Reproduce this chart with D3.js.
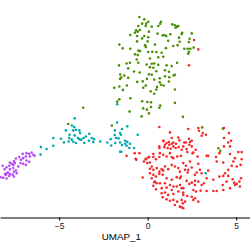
<!DOCTYPE html>
<html>
<head>
<meta charset="utf-8">
<script src="https://cdn.jsdelivr.net/npm/d3@7"></script>
<style>
  body { margin: 0; background: #fff; }
  svg { display: block; font-family: "Liberation Sans", Arial, sans-serif; }
</style>
</head>
<body>
<div id="umap-container"></div>
<script>
// cluster names and colours (in drawing order)
var clusterNames = ["0", "1", "2", "3"];
var clusterColors = ["#f22a2a", "#4a8f00", "#00a7ae", "#b44cf6"];

// x axis ticks
var xTicks = [-5, 0, 5];
var xLabel = "UMAP_1";

// cluster 0 (red) - UMAP_1, UMAP_2
var cluster0 = [
  [0.66,0.15],[1.26,-0.15],[0.88,-0.64],[1.07,-0.75],[1.22,-0.85],[1.36,-0.79],[1.45,-0.72],[1.6,-0.79],[1.79,-0.6],[2.07,-0.72],
  [0.66,-0.94],[0.94,-0.98],[1.13,-1.03],[1.3,-1.07],[1.45,-0.94],[1.58,-1.03],[1.75,-0.98],[1.92,-1.13],[-0.73,-1.32],[-0.68,-1.64],
  [-0.47,-1.32],[-0.64,-1.69],[0.09,-1.54],[-0.1,-1.66],[-0.21,-1.79],[-0.02,-1.88],[0.13,-1.85],[0.32,-1.54],[0.47,-1.66],[0.69,-1.32],
  [0.66,-1.54],[0.88,-1.41],[1.07,-1.51],[1.26,-1.32],[1.45,-1.6],[1.67,-1.51],[1.88,-1.47],[0.23,-2.07],[0.32,-2.26],[0.51,-2.16],
  [0.66,-2.36],[0.79,-2.22],[0.88,-2.3],[0.98,-2.07],[1.16,-2.22],[1.36,-1.98],[1.54,-2.07],[1.73,-2.16],[2.01,-1.88],[-0.28,-2.69],
  [0.13,-2.45],[0.32,-2.54],[0.23,-2.73],[0.47,-2.64],[0.66,-2.49],[0.85,-2.54],[1.07,-2.73],[1.36,-2.82],[1.64,-2.67],[1.88,-2.64],
  [0.41,-2.92],[0.51,-3.01],[0.32,-3.16],[0.47,-3.35],[0.69,-3.01],[0.98,-3.01],[1.26,-3.11],[1.45,-3.2],[1.82,-3.11],[0.79,-3.58],
  [0.98,-3.54],[1.16,-3.67],[1.45,-3.62],[1.73,-3.48],[2.01,-3.54],[0.85,-3.8],[1.07,-3.92],[1.26,-4.0],[1.45,-3.95],[1.67,-4.05],
  [1.92,-3.95],[1.98,-4.14],[-1.19,-1.47],
  [2.29,0.04],[2.86,0.1],[2.9,-0.06],[3.11,-0.19],[3.05,-0.34],[3.29,-0.28],[4.31,-0.47],[4.59,-0.19],[4.55,-0.72],[4.31,-0.94],
  [4.65,-0.94],[2.16,-0.72],[2.35,-0.85],[2.01,-0.94],[2.49,-0.94],[2.2,-1.09],[2.24,-1.26],[2.58,-1.28],[3.33,-1.47],[3.42,-1.47],
  [3.86,-1.54],[4.05,-1.32],[3.9,-1.79],[4.27,-1.85],[4.65,-1.37],[4.93,-1.6],[5.12,-1.26],[5.31,-1.26],[5.31,-1.66],[2.39,-1.79],
  [2.16,-2.03],[2.86,-1.92],[4.84,-1.79],[4.75,-2.03],[5.03,-2.07],[5.25,-1.98],[4.55,-2.26],[4.37,-2.45],[2.29,-2.26],[2.26,-2.41],
  [2.77,-2.41],[3.05,-2.45],[2.67,-2.54],[3.42,-2.3],[3.33,-2.73],[3.71,-2.82],[4.05,-2.64],[4.27,-2.6],[4.55,-2.6],[4.8,-2.79],
  [4.89,-2.98],[5.03,-3.05],[5.18,-2.92],[5.27,-2.73],[2.2,-2.88],[2.49,-2.98],[2.67,-3.11],[2.35,-3.05],[2.86,-2.92],[3.05,-3.11],
  [3.18,-3.01],[2.01,-3.29],[2.58,-3.39],[2.73,-3.48],[2.99,-3.43],[3.33,-3.45],[3.71,-3.45],[3.9,-3.45],[4.27,-3.39],[4.65,-3.29],
  [4.24,-3.11],[4.46,-2.92],[4.93,-3.11],[5.21,-3.2],[2.01,-3.67],[2.24,-3.73],[2.49,-3.77],[2.67,-3.86],[2.11,-4.05],[2.58,-3.95],
  [2.86,-4.05],[1.92,-4.37],
  [4.31,0.1],[4.71,-0.62],[0.9,-0.62],[1.2,-0.69],[2.33,-0.51],[2.49,-0.62],[2.39,-0.69],[0.66,-1.03],[2.71,-1.13],[-0.11,-1.64],
  [0.03,-1.56],[0.32,-1.37],[1.36,-1.54],[2.54,-1.32],[2.82,-1.51],[0.13,-2.2],[1.82,-2.36],[2.11,-2.26],[2.49,-2.13],[2.95,-2.26],
  [0.37,-2.95],[1.82,-2.73],[2.67,-2.88],[1.92,-3.29],[1.36,-3.39],[1.64,-3.2],[1.07,-3.26],[0.79,-3.29],[1.54,-4.24],[1.82,-4.33],
  [2.01,-4.42],[1.73,-0.44],[1.36,-0.47],[0.98,-0.85],
  [2.62,5.05],[2.86,4.52],[2.33,3.63]
];

// cluster 1 (green)
var cluster1 = [
  [-0.47,6.34],[-0.19,6.21],[0.03,6.08],[-0.31,5.97],[-0.08,5.97],[-0.53,5.84],[-0.11,5.84],[0.23,5.8],[0.75,6.08],[0.71,5.97],
  [0.6,5.84],[1.39,5.93],[1.54,5.88],[1.66,5.8],[1.73,5.84],[1.58,5.74],[-0.66,5.59],[-0.56,5.52],[-0.72,5.46],[-0.44,5.61],
  [0.07,5.52],[0.56,5.41],[-0.19,5.27],[-0.98,5.33],[-0.6,5.27],[-0.31,5.14],[0.03,5.2],[0,4.97],[-0.6,4.97],[0.94,5.33],
  [1.05,5.27],[0.85,5.31],[1.28,5.37],[1.95,5.46],[1.92,5.38],[2.49,5.42],[1.77,5.18],[1.16,5.01],[2.37,5.12],[2.33,4.93],
  [1.81,4.95],[1.45,4.71],[1.69,4.76],[2.07,4.56],[2.26,4.56],[2.41,4.56],[2.6,4.62],[2.33,4.39],[2.29,4.28],[-0.15,4.76],
  [-0.1,4.65],[0.41,4.79],[-0.98,4.56],[-0.53,4.46],[-0.44,4.42],[0.03,4.37],[0.26,4.39],[0.49,4.37],[0.79,4.33],[1.03,4.59],
  [0.88,4.11],[0.6,4.08],[0.13,4.01],[-0.72,4.24],[-0.56,4.2],[-0.62,3.95],[-1.0,3.77],[-1.19,3.73],[-0.53,3.77],[1.66,3.77],
  [-0.06,3.67],[0.23,3.71],[0.37,3.73],[0.32,3.49],[0.13,3.52],[0.6,3.65],[1.07,3.63],[1.36,3.58],[-1.1,3.45],[-0.77,3.28],
  [-0.45,3.22],[0.49,3.29],[0.98,3.35],[1.2,3.26],[1.54,3.09],[1.47,3.05],[0.07,3.12],[0.23,3.09],[-0.04,2.86],[0.37,2.82],
  [0.68,2.9],[0.98,3.01],[1.22,2.95],[-1.1,2.92],[-0.59,2.69],[-0.28,2.73],[-0.11,2.49],[-0.25,2.36],[-1.17,2.49],[0.68,2.67],
  [0.75,2.53],[0.9,2.49],[0.53,2.41],[0.17,2.16],[0.49,2.26],[1.2,2.71],[1.54,2.26],[0.37,2.02],[-0.98,1.77],[-0.31,1.6],
  [-0.02,1.56],[0.19,1.54],[1.54,1.51],[-0.25,1.2],[-0.04,1.13],[0.19,1.28],[0.71,1.36],[0.66,1.24],[-1.02,1.02],[0.07,0.92],
  [-0.34,0.75],[1.99,0.72],
  [-1.6,4.79],[-1.41,4.58],[-1.62,3.62],[-1.55,3.11],[-1.49,2.94],[-1.56,2.86],[-1.32,3.05],[-1.6,2.43],[-1.89,2.36],[-1.4,2.24],
  [-1.6,1.71],[-1.72,1.58],[-3.64,1.24],[-4.49,0.32],[-2.02,0.23],
  [3.08,0.13],[4.25,0.06],[3.99,-1.04],[4.1,-1.19]
];

// cluster 2 (cyan)
var cluster2 = [
  [-4.12,0.64],[-4.28,0.24],[-4.15,0.15],[-4.62,-0.04],[-4.2,-0.04],[-4.05,0],[-3.86,-0.04],[-4.41,-0.28],[-4.12,-0.32],[-3.82,-0.19],
  [-3.3,-0.23],[-3.49,-0.38],[-5.33,-0.47],[-4.9,-0.51],[-4.43,-0.47],[-4.29,-0.56],[-4.46,-0.66],[-4.2,-0.68],[-3.94,-0.47],[-3.86,-0.53],
  [-3.75,-0.56],[-3.62,-0.47],[-3.16,-0.47],[-3.03,-0.53],[-3.32,-0.62],[-4.73,-0.72],[-4.05,-0.75],[-3.07,-0.69],[-3.58,-0.75],[-2.68,-0.66],
  [-5.33,-0.9],[-5.71,-1.09],[-6.03,-0.98],[-6.05,-1.4],
  [-1.72,1.43],[-1.73,0.41],[-1.15,0.19],[-1.45,0.04],[-1.85,-0.04],[-1.56,-0.19],[-1.51,-0.28],[-1.86,-0.3],[-1.79,-0.47],[-1.64,-0.49],
  [-2.09,-0.53],[-2.28,-0.72],[-1.56,-0.72],[-1.83,-0.75],[-2.06,-0.89],[-1.45,-0.86],[-1.27,-0.79],[-1.15,-0.68],[-1.19,-0.9],[-1.0,-0.79],
  [-1.04,-1.03],[-0.77,-1.03],[-0.56,-0.28],[-1.56,-1.24],[-1.49,-1.24],[-1.28,-0.62],[3.28,-2.45]
];

// cluster 3 (purple)
var cluster3 = [
  [-6.55,-1.28],[-6.46,-1.41],[-6.38,-1.47],[-6.69,-1.36],[-6.84,-1.32],[-7.06,-1.36],[-6.88,-1.51],[-6.65,-1.51],[-7.25,-1.54],[-7.44,-1.62],
  [-7.03,-1.6],[-7.16,-1.69],[-7.55,-1.77],[-7.5,-1.88],[-7.78,-1.85],[-7.68,-1.92],[-7.59,-1.98],[-6.84,-1.73],[-6.69,-1.81],[-7.03,-1.92],
  [-6.88,-1.98],[-7.18,-1.88],[-7.82,-2.03],[-8.19,-2.03],[-7.97,-2.11],[-8.08,-2.22],[-7.78,-2.22],[-7.59,-2.16],[-7.89,-2.41],[-7.97,-2.45],
  [-7.78,-2.49],[-8.01,-2.54],[-7.82,-2.6],[-7.63,-2.53],[-7.55,-2.37],[-8.16,-2.71],[-7.97,-2.75],[-7.55,-2.64],[-7.4,-2.45],[-7.44,-2.3],
  [-7.31,-2.07],[-8.31,-2.67],[-8.06,-2.49]
];

var clusters = [cluster0, cluster1, cluster2, cluster3];

var width = 250;
var height = 250;

var svg = d3.select("#umap-container").append("svg")
    .attr("width", width)
    .attr("height", height);

//panel is wider than the picture, left part (and y axis) is cut off
var x = d3.scaleLinear().domain([-8.34, 5.78]).range([0, width]);
var y = d3.scaleLinear().domain([-4.8, 7.3]).range([215, 0]);

//points
clusters.forEach(function (pts, i) {
  svg.append("g")
      .attr("class", "cluster-" + clusterNames[i])
    .selectAll("circle")
    .data(pts)
    .enter().append("circle")
      .attr("cx", function (d) { return x(d[0]); })
      .attr("cy", function (d) { return y(d[1]); })
      .attr("r", 1.3)
      .attr("fill", clusterColors[i]);
});

//x axis
var xAxis = svg.append("g")
    .attr("transform", "translate(0,217.5)")
    .call(d3.axisBottom(x).tickValues(xTicks).tickSize(3).tickSizeOuter(0).tickPadding(2));
xAxis.select(".domain").attr("stroke", "#000").attr("stroke-width", 1.1);
xAxis.selectAll(".tick line").attr("stroke", "#000").attr("stroke-width", 1.1);
xAxis.selectAll(".tick text")
    .attr("fill", "#1a1a1a")
    .style("font-size", "8.5px")
    .style("font-family", "Liberation Sans, Arial, sans-serif");

svg.append("text")
    .attr("x", 121.3)
    .attr("y", 240)
    .attr("text-anchor", "middle")
    .style("font-size", "9.8px")
    .attr("fill", "#000")
    .text(xLabel);
</script>
</body>
</html>
